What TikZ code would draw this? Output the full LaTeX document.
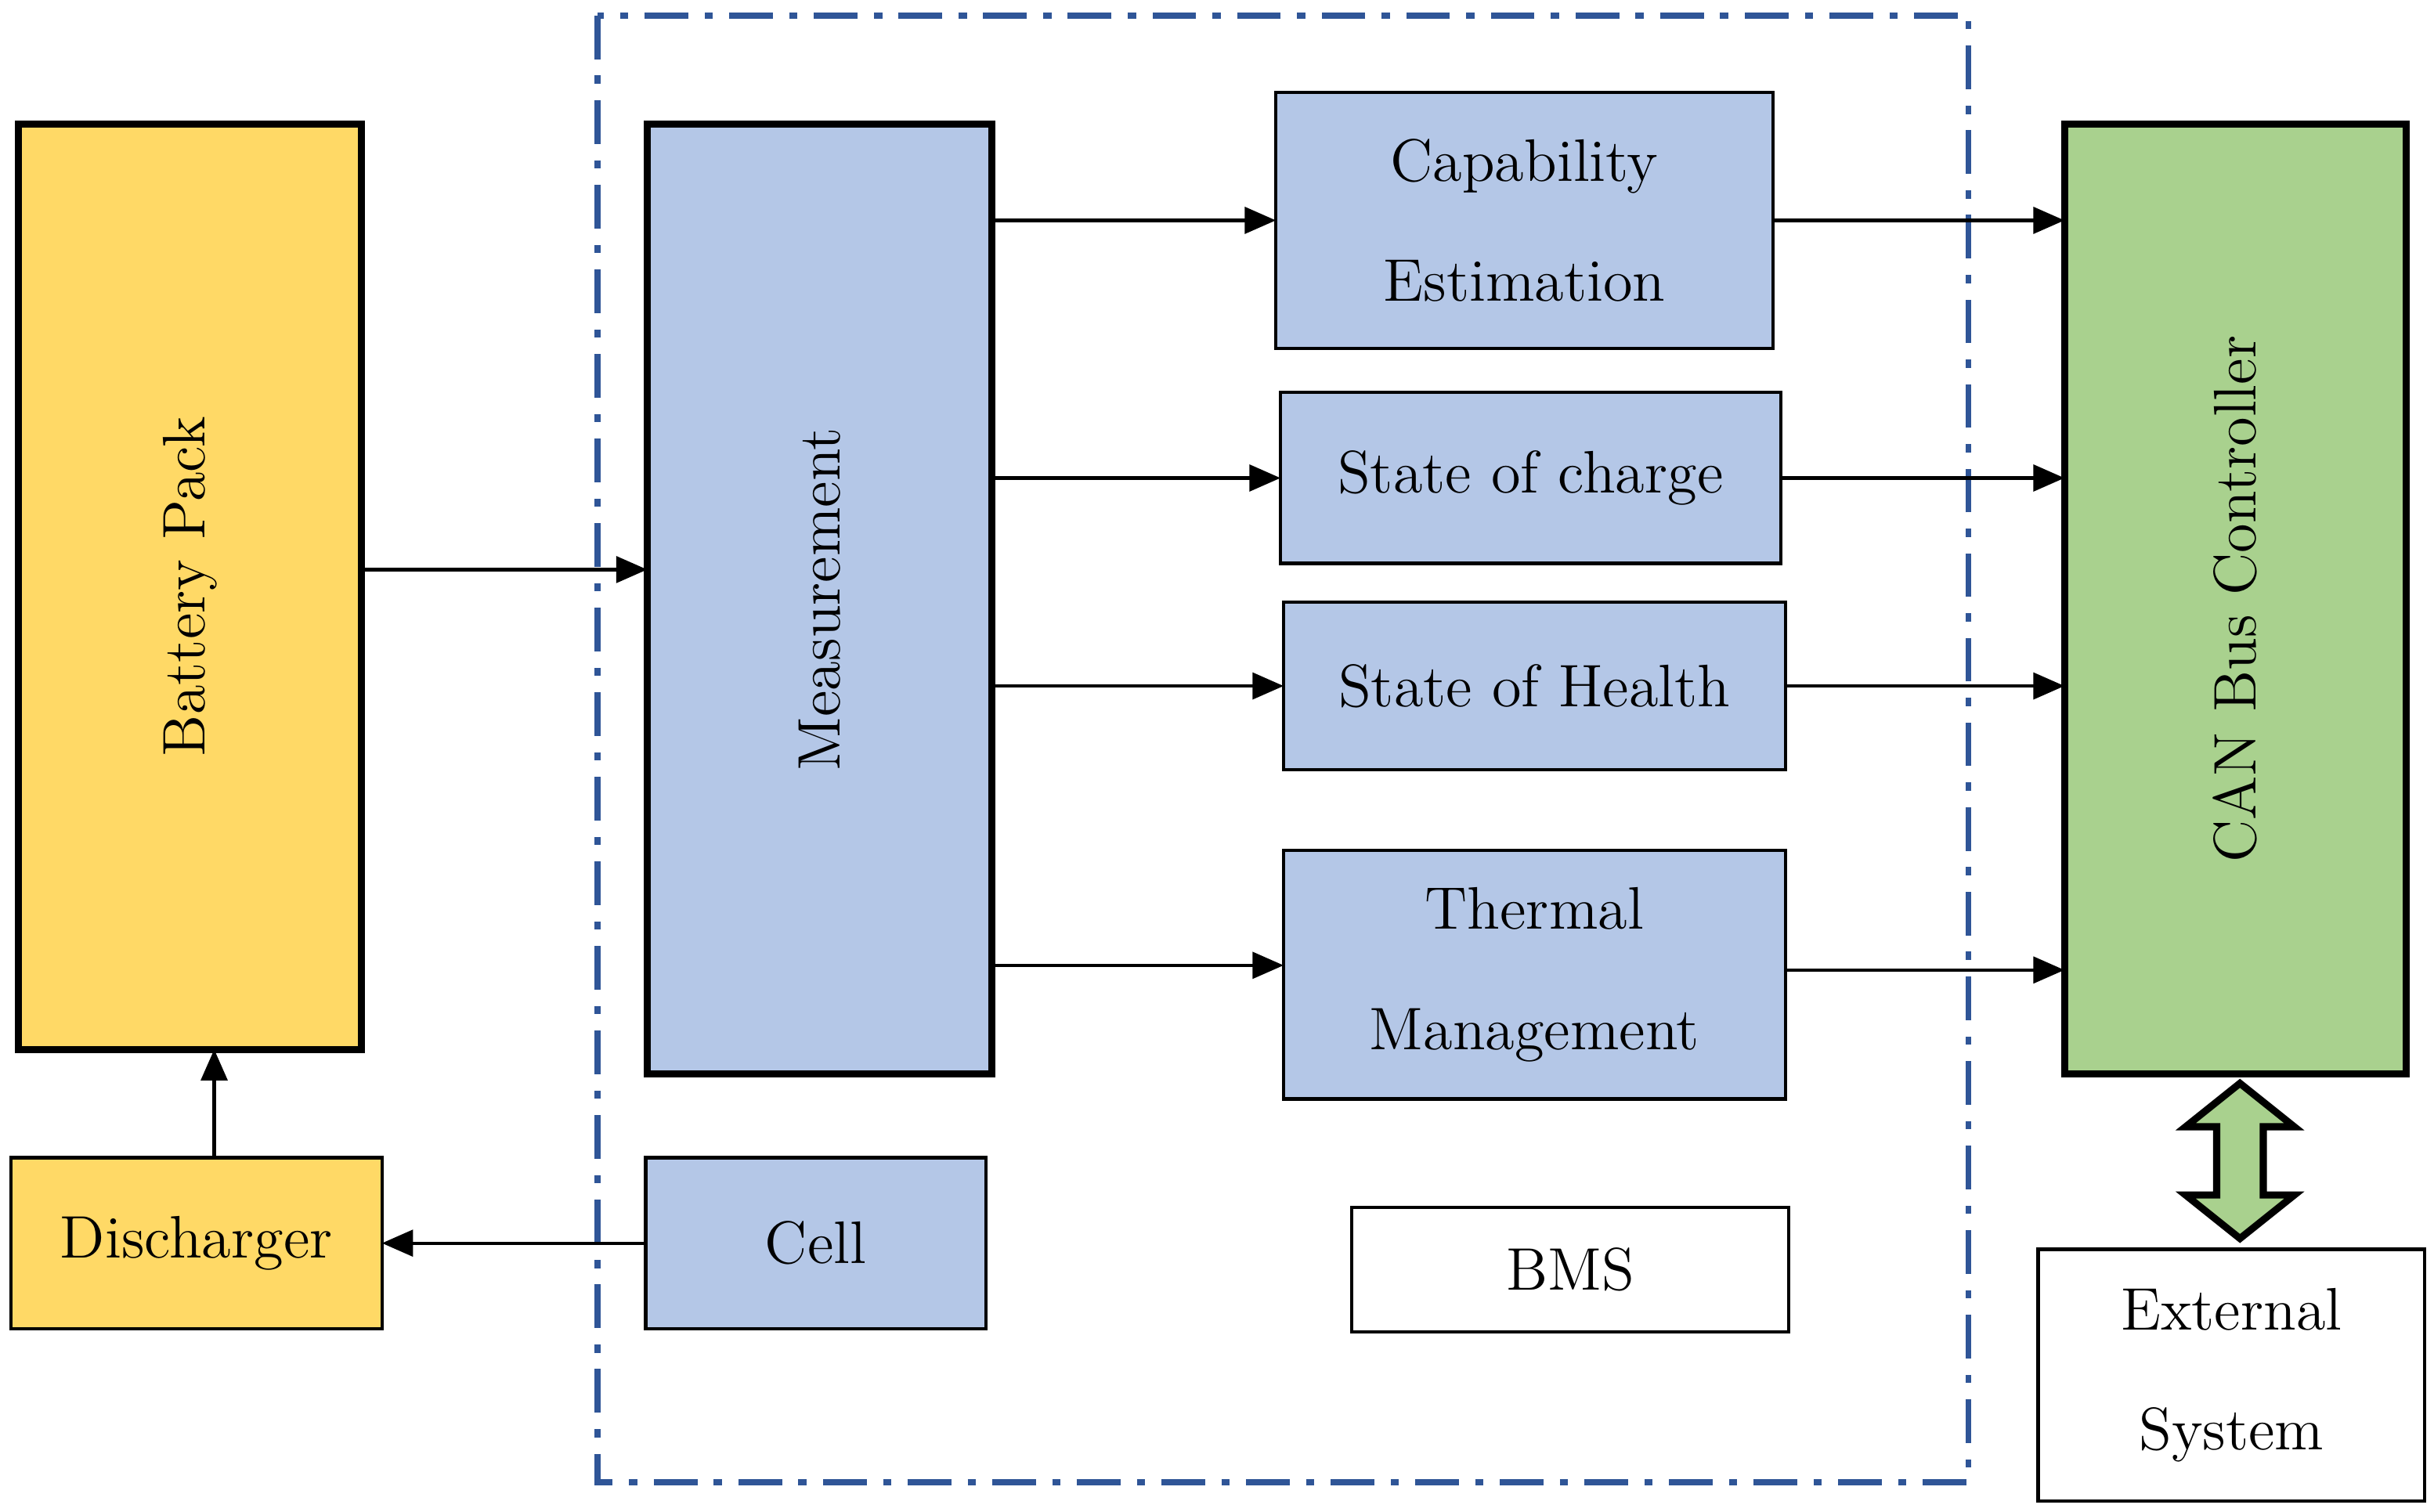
\documentclass[tikz,border=0pt]{standalone}
\usetikzlibrary{arrows.meta}
\definecolor{yel}{HTML}{FFD966}
\definecolor{blu}{HTML}{B4C7E7}
\definecolor{grn}{HTML}{A9D18E}
\definecolor{dashblue}{HTML}{2F5597}
\begin{document}
\begin{tikzpicture}[x=0.01cm,y=-0.01cm,
  box/.style={draw,inner sep=0,outer sep=0,align=center,font=\fontsize{11}{22}\selectfont},
  thick box/.style={box,line width=1.3pt},
  thin box/.style={box,line width=0.6pt},
  arr/.style={line width=0.6pt,-{Triangle[length=0.2cm,width=0.17cm]}}]
\useasboundingbox (0,0) rectangle (1568,974);
\draw[dashblue,line width=1.1pt,dash pattern=on 8pt off 3pt on 1.5pt off 3pt] (385,10) rectangle (1268,955);
\node[thick box,fill=yel,minimum width=2.21cm,minimum height=5.96cm] (bat) at (122.5,378) {\rotatebox{90}{Battery Pack}};
\node[thin box,fill=yel,minimum width=2.39cm,minimum height=1.1cm] (dis) at (126.5,801) {Discharger};
\node[thick box,fill=blu,minimum width=2.22cm,minimum height=6.12cm] (meas) at (528,386) {\rotatebox{90}{Measurement}};
\node[thin box,fill=blu,minimum width=2.19cm,minimum height=1.1cm] (cell) at (525.5,801) {Cell};
\node[thin box,fill=blu,minimum width=3.2cm,minimum height=1.65cm] (cap) at (982,142) {Capability\\Estimation};
\node[thin box,fill=blu,minimum width=3.22cm,minimum height=1.1cm] (soc) at (986,308) {State of charge};
\node[thin box,fill=blu,minimum width=3.23cm,minimum height=1.08cm] (soh) at (988.5,442) {State of Health};
\node[thin box,fill=blu,minimum width=3.23cm,minimum height=1.6cm] (th) at (988.5,628) {Thermal\\Management};
\node[thin box,fill=white,minimum width=2.81cm,minimum height=0.8cm] (bms) at (1011.5,818) {BMS};
\node[thick box,fill=grn,minimum width=2.2cm,minimum height=6.12cm] (can) at (1440,386) {\rotatebox{90}{CAN Bus Controller}};
\node[thin box,fill=white,minimum width=2.49cm,minimum height=1.62cm] (ext) at (1437.5,886) {External\\System};
\draw[arr] (bat.east |- 0,367) -- (meas.west |- 0,367);
\draw[arr] (meas.east |- cap.west) -- (cap.west);
\draw[arr] (meas.east |- soc.west) -- (soc.west);
\draw[arr] (meas.east |- soh.west) -- (soh.west);
\draw[arr] (meas.east |- 0,622) -- (th.west |- 0,622);
\draw[arr] (cap.east) -- (can.west |- cap.east);
\draw[arr] (soc.east) -- (can.west |- soc.east);
\draw[arr] (soh.east) -- (can.west |- soh.east);
\draw[arr] (th.east |- 0,625) -- (can.west |- 0,625);
\draw[arr] (cell.west) -- (dis.east);
\draw[arr] (dis.north -| 138,0) -- (bat.south -| 138,0);
\draw[line width=1.3pt,fill=grn] (1443,698) -- (1478,726) -- (1458,726) -- (1458,770) -- (1478,770) -- (1443,798) -- (1408,770) -- (1428,770) -- (1428,726) -- (1408,726) -- cycle;
\end{tikzpicture}
\end{document}
